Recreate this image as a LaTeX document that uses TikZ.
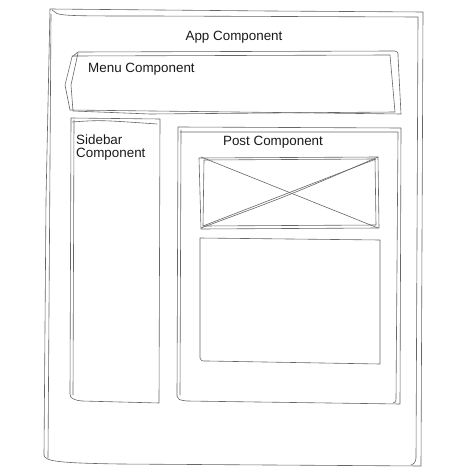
\documentclass[tikz,border=0pt]{standalone}
\usepackage{fontspec}
\setmainfont{Liberation Sans}
\begin{document}
\begin{tikzpicture}[x=1pt,y=-1pt,
  sk/.style={draw=black!60, line width=0.6pt, line join=round, line cap=round},
  lbl/.style={inner sep=0pt, font=\fontsize{13.4}{13}\selectfont, text=black!90}]
\useasboundingbox (0,0) rectangle (474,476);
% App component
\draw[sk] (50,9) -- (270,11) -- (423,12) -- (421,466) -- (120,464) .. controls (55,463) and (45,461) .. (44,455) -- (46,200) -- (50,9);
\draw[sk] (52,10) .. controls (58,16) .. (150,16) -- (418,17) -- (416,458) .. controls (415,463) .. (411,465);
\draw[sk] (51,14) -- (48,458);
\node[lbl, anchor=base] (app) at (234,40.5) {App Component};
% Menu component
\draw[sk] (78,52) -- (395,51) .. controls (398,52) .. (398,56) -- (401,114) -- (70,110) -- (65,85) -- (72,57) -- cycle;
\draw[sk] (72,56) -- (390,55) -- (395,112) -- (150,114) -- (73,111) -- (71,85) -- (78,53);
\node[lbl, anchor=base west] (menu) at (88,72.5) {Menu Component};
% Sidebar component
\draw[sk] (71,118) -- (160,119) -- (159,403) -- (82,401) .. controls (73,400) and (70,398) .. (70,394) -- cycle;
\draw[sk] (72,122) .. controls (100,120) .. (157,124);
\draw[sk] (74,120) -- (73,395);
\node[lbl, anchor=base west, align=left] (side) at (76,157) {Sidebar\\Component};
% Post component
\draw[sk] (178,127) -- (401,128) -- (400,404) -- (187,401) .. controls (179,400) .. (177,396) -- cycle;
\draw[sk] (180,132) -- (398,132) -- (396,399) .. controls (396,402) .. (393,403);
\draw[sk] (181,130) -- (180,395);
\node[lbl, anchor=base] (post) at (273,146) {Post Component};
% Image placeholder
\coordinate (i1) at (201,157);
\coordinate (i2) at (378,157);
\coordinate (i3) at (378,228);
\coordinate (i4) at (201,228);
\draw[sk] (199,158) -- (378,157) -- (379,228) -- (201,229) -- cycle;
\draw[sk] (204,160) -- (375,159) -- (376,225) -- (203,226) -- cycle;
\draw[sk] (i1) -- (i3);
\draw[sk] (i4) .. controls (290,195) .. (i2);
\draw[sk] (203,226) -- (376,159);
% Content box
\draw[sk] (200,238) -- (380,240) -- (380,364) -- (207,361) .. controls (201,361) .. (200,358) -- cycle;
\end{tikzpicture}
\end{document}
